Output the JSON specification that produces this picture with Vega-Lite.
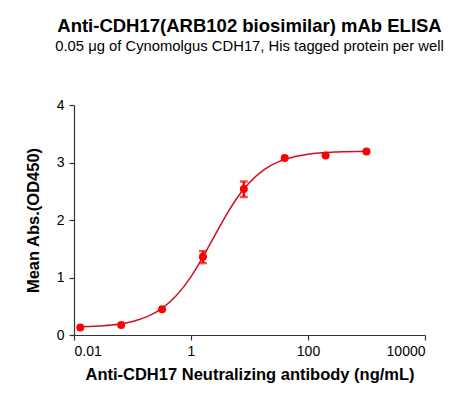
{
  "$schema": "https://vega.github.io/schema/vega-lite/v6.json",
  "width": 351,
  "height": 230,
  "autosize": {"type": "none"},
  "padding": {"left": 74, "top": 105, "right": 49, "bottom": 69},
  "background": "white",
  "title": {
    "text": "Anti-CDH17(ARB102 biosimilar) mAb ELISA",
    "subtitle": "0.05 μg of Cynomolgus CDH17, His tagged protein per well",
    "anchor": "middle",
    "font": "Liberation Sans",
    "fontSize": 18.5,
    "fontWeight": "bold",
    "color": "black",
    "subtitleFont": "Liberation Sans",
    "subtitleFontSize": 14.8,
    "subtitleColor": "black",
    "subtitlePadding": 4,
    "offset": 44
  },
  "config": {
    "view": {"stroke": null},
    "axis": {
      "grid": false,
      "domainColor": "#333333",
      "tickColor": "#333333",
      "domainWidth": 1.2,
      "tickWidth": 1.2,
      "tickSize": 5,
      "labelFont": "Liberation Sans",
      "labelFontSize": 14,
      "labelColor": "black",
      "titleFont": "Liberation Sans",
      "titleFontSize": 16.5,
      "titleFontWeight": "bold",
      "titleColor": "black"
    }
  },
  "datasets": {
    "points": [
      {"conc": 0.0128, "od": 0.13},
      {"conc": 0.064, "od": 0.175},
      {"conc": 0.32, "od": 0.45},
      {"conc": 1.6, "od": 1.36, "lo": 1.25, "hi": 1.46},
      {"conc": 8, "od": 2.54, "lo": 2.4, "hi": 2.67},
      {"conc": 40, "od": 3.08},
      {"conc": 200, "od": 3.12},
      {"conc": 1000, "od": 3.19}
    ],
    "curve": [
      {"conc": 0.0128, "od": 0.142},
      {"conc": 0.01778, "od": 0.148},
      {"conc": 0.03162, "od": 0.162},
      {"conc": 0.05623, "od": 0.188},
      {"conc": 0.1, "od": 0.236},
      {"conc": 0.1778, "od": 0.319},
      {"conc": 0.3162, "od": 0.459},
      {"conc": 0.5623, "od": 0.685},
      {"conc": 1, "od": 1.016},
      {"conc": 1.334, "od": 1.219},
      {"conc": 1.778, "od": 1.441},
      {"conc": 2.371, "od": 1.673},
      {"conc": 3.162, "od": 1.904},
      {"conc": 4.217, "od": 2.125},
      {"conc": 5.623, "od": 2.326},
      {"conc": 7.499, "od": 2.503},
      {"conc": 10, "od": 2.653},
      {"conc": 17.78, "od": 2.876},
      {"conc": 31.62, "od": 3.015},
      {"conc": 56.23, "od": 3.096},
      {"conc": 100, "od": 3.143},
      {"conc": 316.2, "od": 3.183},
      {"conc": 1000, "od": 3.195}
    ]
  },
  "encoding": {
    "x": {
      "field": "conc",
      "type": "quantitative",
      "scale": {"type": "log", "domain": [0.01, 10000]},
      "axis": {
        "title": "Anti-CDH17 Neutralizing antibody (ng/mL)",
        "values": [0.01, 1, 100, 10000],
        "format": "~g",
        "labelPadding": 4,
        "titlePadding": 8
      }
    },
    "y": {
      "field": "od",
      "type": "quantitative",
      "scale": {"domain": [0, 4]},
      "axis": {
        "title": "Mean Abs.(OD450)",
        "values": [0, 1, 2, 3, 4],
        "format": "d",
        "labelPadding": 5,
        "titlePadding": 15
      }
    }
  },
  "layer": [
    {
      "data": {"name": "curve"},
      "mark": {"type": "line", "color": "#d01020", "strokeWidth": 1.5, "interpolate": "monotone"}
    },
    {
      "data": {"name": "points"},
      "transform": [{"filter": "isValid(datum.lo)"}],
      "mark": {"type": "rule", "color": "#ff0000", "strokeWidth": 2.5},
      "encoding": {
        "y": {"field": "lo", "type": "quantitative"},
        "y2": {"field": "hi"}
      }
    },
    {
      "data": {"name": "points"},
      "transform": [{"filter": "isValid(datum.lo)"}],
      "mark": {"type": "tick", "orient": "horizontal", "color": "#ff0000", "size": 8, "thickness": 2.5},
      "encoding": {"y": {"field": "lo", "type": "quantitative"}}
    },
    {
      "data": {"name": "points"},
      "transform": [{"filter": "isValid(datum.hi)"}],
      "mark": {"type": "tick", "orient": "horizontal", "color": "#ff0000", "size": 8, "thickness": 2.5},
      "encoding": {"y": {"field": "hi", "type": "quantitative"}}
    },
    {
      "data": {"name": "points"},
      "mark": {"type": "circle", "color": "#ff0000", "opacity": 1, "size": 64}
    }
  ]
}
